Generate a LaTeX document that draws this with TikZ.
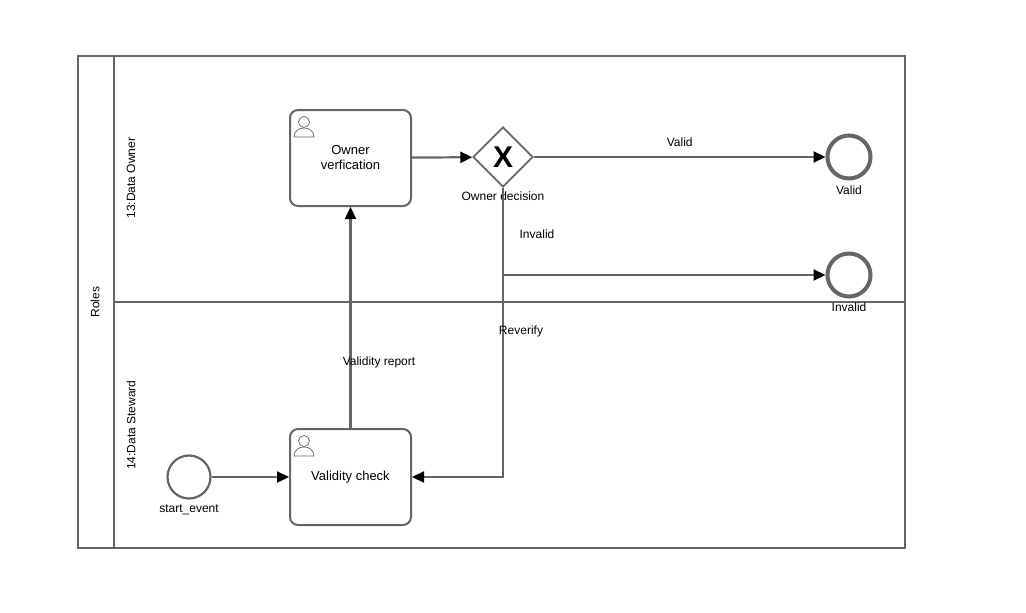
\documentclass[tikz,border=0pt]{standalone}
\usepackage{fontspec}
\setmainfont{Liberation Sans}
\usetikzlibrary{arrows.meta,shapes.geometric}
\begin{document}
\begin{tikzpicture}[x=1pt,y=-1pt,
  line/.style={draw=black!60,line width=1.8pt},
  flow/.style={draw=black!60,line width=2.2pt,-{Triangle[length=12pt,width=11pt,color=black]}},
  task/.style={draw=black!60,line width=2pt,rounded corners=8pt,minimum width=121pt,minimum height=96pt,font=\fontsize{13}{15}\selectfont,align=center},
  ev/.style={circle,draw=black!60,minimum size=43pt,inner sep=0pt},
  lbl/.style={font=\fontsize{12}{14}\selectfont,inner sep=1pt},
  usr/.style={draw=black!60,line width=0.7pt}]
\useasboundingbox (0,0) rectangle (1026,613);
\draw[line] (78,56) rectangle (905,548);
\draw[line] (114,56) -- (114,548);
\draw[line] (114,302) -- (905,302);
\node[lbl,rotate=90] (roles) at (95,302) {Roles};
\node[lbl,rotate=90] (lane1) at (131,178) {13:Data Owner};
\node[lbl,rotate=90] (lane2) at (131,425) {14:Data Steward};

\node[task] (ov) at (350.5,158) {Owner\\verfication};
\node[task] (vc) at (350.5,477) {Validity check};
\foreach \t in {ov,vc}{
  \draw[usr] ([xshift=5pt,yshift=-28pt]\t.north west) .. controls ([xshift=5pt,yshift=-16pt]\t.north west) and ([xshift=25pt,yshift=-16pt]\t.north west) .. ([xshift=25pt,yshift=-28pt]\t.north west) -- cycle;
  \draw[usr,fill=white] ([xshift=15pt,yshift=-13pt]\t.north west) circle (5.5pt);
}
\node[diamond,draw=black!60,line width=1.8pt,minimum width=60pt,minimum height=60pt,inner sep=0pt,font=\fontsize{30}{30}\bfseries] (gw) at (503,157) {X};
\node[lbl,below=3pt] (gwl) at (gw.south) {Owner decision};
\node[ev,line width=4pt] (ev) at (849,157) {};
\node[lbl] (evl) at (849,190) {Valid};
\node[ev,line width=4pt] (ei) at (849,275) {};
\node[lbl] (eil) at (849,307) {Invalid};
\node[ev,line width=2.2pt] (st) at (189,477) {};
\node[lbl] (stl) at (189,510) {start\_event};

\draw[flow] (st) -- (vc);
\draw[flow] (vc.north) -- (ov.south);
\node[lbl] (vr) at (379,362) {Validity report};
\draw[flow] (ov) -- (gw);
\draw[flow] (gw) -- (ev) node[lbl,midway,above=8pt] {Valid};
\draw[flow] (gw.south) |- (ei);
\node[lbl] (inv) at (537,234) {Invalid};
\draw[flow] (gw.south) |- (vc.east);
\node[lbl] (rev) at (521,331) {Reverify};
\end{tikzpicture}
\end{document}
